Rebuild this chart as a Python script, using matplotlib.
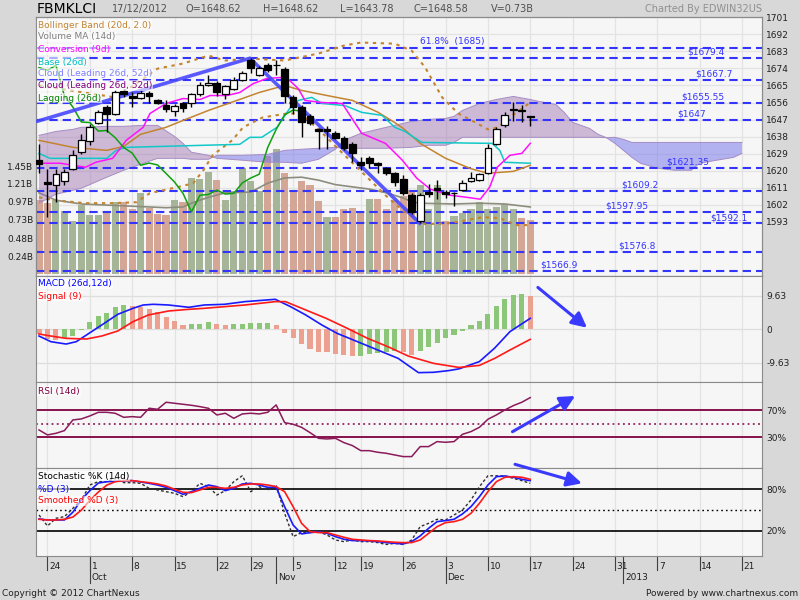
import numpy as np
import matplotlib
matplotlib.use('Agg')
import matplotlib.pyplot as plt
from matplotlib.transforms import blended_transform_factory

# ---- daily candles, 21 Sep 2012 (index 0) .. 17 Dec 2012 (index 58) ----
opens = [1625.5, 1614.0, 1612.3, 1614.5, 1621.1, 1629.8, 1635.5, 1645.1, 1653.6, 1650.1,
         1662.0, 1659.5, 1658.3, 1661.0, 1657.2, 1654.5, 1651.5, 1655.7, 1655.7, 1660.3,
         1665.0, 1666.4, 1660.6, 1663.3, 1668.0, 1678.3, 1670.8, 1676.0, 1676.0, 1673.8,
         1659.0, 1653.6, 1648.7, 1641.8, 1642.2, 1640.1, 1637.5, 1634.3, 1624.6, 1626.7,
         1624.0, 1621.4, 1618.8, 1615.8, 1607.0, 1593.5, 1608.6, 1611.0, 1608.8, 1608.3,
         1609.6, 1614.5, 1615.3, 1618.5, 1633.9, 1644.3, 1652.5, 1651.8, 1648.62]
highs = [1634.0, 1621.0, 1621.0, 1621.0, 1630.7, 1639.5, 1644.8, 1651.8, 1654.5, 1662.4,
         1663.0, 1661.5, 1662.4, 1662.0, 1658.0, 1657.4, 1655.3, 1656.5, 1661.0, 1667.0,
         1670.3, 1667.6, 1665.0, 1669.4, 1672.5, 1679.4, 1675.5, 1677.0, 1678.5, 1675.0,
         1660.0, 1654.5, 1650.0, 1642.5, 1643.5, 1641.0, 1638.5, 1635.0, 1627.2, 1627.5,
         1624.5, 1622.0, 1619.5, 1617.5, 1608.0, 1608.0, 1612.8, 1614.8, 1610.0, 1608.5,
         1615.0, 1619.3, 1619.0, 1634.0, 1643.0, 1651.0, 1656.3, 1654.5, 1648.62]
lows = [1619.0, 1595.5, 1603.5, 1612.3, 1620.4, 1629.0, 1633.4, 1644.8, 1640.4, 1649.2,
        1659.0, 1653.6, 1657.7, 1656.0, 1655.0, 1650.9, 1648.7, 1651.0, 1653.5, 1659.5,
        1664.5, 1659.7, 1658.0, 1662.4, 1667.5, 1671.5, 1670.0, 1672.0, 1670.3, 1656.0,
        1650.0, 1637.7, 1644.0, 1631.6, 1631.6, 1636.5, 1631.0, 1624.6, 1620.2, 1621.5,
        1618.5, 1617.5, 1612.0, 1607.0, 1597.0, 1592.1, 1606.0, 1605.0, 1605.5, 1601.2,
        1609.0, 1614.0, 1614.7, 1618.0, 1633.5, 1642.8, 1646.2, 1645.5, 1643.78]
closes = [1623.4, 1612.8, 1618.4, 1619.3, 1628.1, 1636.4, 1643.0, 1650.9, 1649.7, 1661.5,
          1660.3, 1658.5, 1661.0, 1659.2, 1655.6, 1652.7, 1654.3, 1653.3, 1660.6, 1665.5,
          1666.4, 1661.5, 1664.5, 1668.0, 1671.5, 1674.0, 1674.5, 1673.0, 1675.7, 1659.5,
          1653.6, 1645.7, 1645.4, 1640.9, 1641.2, 1637.4, 1632.2, 1629.3, 1622.8, 1624.0,
          1623.0, 1618.5, 1614.0, 1608.0, 1598.2, 1607.0, 1607.4, 1609.7, 1607.6, 1608.0,
          1613.5, 1616.1, 1618.1, 1632.2, 1641.8, 1649.5, 1652.0, 1651.4, 1648.58]
volume = [1.00, 0.95, 0.99, 0.85, 0.71, 0.92, 0.79, 0.79, 0.84, 0.96,
          0.96, 0.87, 1.09, 0.88, 0.81, 0.79, 0.99, 0.97, 1.29, 1.27,
          1.37, 1.26, 0.99, 1.11, 1.43, 1.25, 1.11, 1.59, 1.68, 1.36,
          1.10, 1.25, 1.19, 0.98, 0.77, 0.77, 0.87, 0.89, 0.84, 1.01,
          1.01, 0.87, 0.99, 1.05, 1.13, 1.19, 0.87, 1.19, 0.71, 0.78,
          0.82, 0.87, 0.96, 0.87, 0.90, 0.94, 0.87, 0.75, 0.73]

# ---- overlay lines as (day index, value) ----
vma_x = [0, 2, 5, 11, 15, 17, 18, 20, 22, 25, 27, 29, 31, 33, 35, 37, 39, 41, 43, 44, 45, 49, 52, 55, 58]
vma_y = [1.09, 0.99, 0.94, 0.91, 0.89, 0.90, 0.95, 1.03, 1.09, 1.10, 1.22, 1.29, 1.30, 1.26, 1.20,
         1.17, 1.14, 1.09, 1.02, 0.97, 0.95, 0.94, 0.95, 0.94, 0.90]

bbu_x = [0, 9, 12, 14, 17, 20, 22, 25, 29, 33, 36, 38, 42, 44, 45.6, 47.6, 49.5, 51.1, 53, 54.2, 56.2, 58]
bbu_y = [1665.0, 1658.7, 1667.6, 1673.9, 1676.6, 1680.8, 1678.2, 1679.2, 1678.2, 1681.9, 1686.1,
         1687.7, 1687.1, 1683.4, 1674.5, 1658.7, 1650.2, 1646.5, 1641.8, 1642.9, 1650.2, 1656.0]
bbm_x = [0, 4, 8, 10, 12, 15, 17, 20, 24, 26, 29, 31, 34, 37, 40, 42, 43, 45, 48, 51, 53, 56, 58]
bbm_y = [1636.0, 1632.3, 1630.7, 1632.8, 1639.2, 1642.9, 1646.5, 1651.8, 1658.1, 1661.3, 1665.0, 1662.4,
         1659.7, 1657.1, 1650.9, 1645.4, 1642.3, 1634.4, 1626.5, 1621.0, 1618.6, 1619.6, 1622.8]
bbl_x = [0, 1.7, 5.5, 8.7, 11.5, 13.1, 16.3, 18.2, 19.4, 20.5, 22.8, 24.1, 26.4, 29.3, 30.8, 32.9,
         35.5, 37.9, 40.9, 43.2, 45.6, 48.5, 52.4, 54.4, 56.4, 58]
bbl_y = [1605.9, 1604.4, 1602.8, 1602.8, 1603.3, 1608.1, 1611.2, 1613.3, 1620.2, 1628.1, 1636.0, 1642.9,
         1648.1, 1650.2, 1650.2, 1642.3, 1630.7, 1620.2, 1607.0, 1598.0, 1591.7, 1592.2, 1595.4, 1594.9,
         1591.2, 1591.2]

conv_x = [0, 2.5, 5.5, 6.7, 8.7, 10.3, 12.3, 13.1, 15, 17, 19, 20.2, 22.2, 23.7, 25.3, 26.9, 28.5, 29.6,
          30.6, 31.4, 33.4, 35.8, 38.1, 40.9, 42.9, 44.6, 46.2, 48.5, 50.5, 52.1, 53.2, 54.1, 55.6, 57, 58]
conv_y = [1623.9, 1623.9, 1621.8, 1624.4, 1626.5, 1636.0, 1642.9, 1650.2, 1655.5, 1658.1, 1657.6, 1659.7,
          1659.7, 1661.3, 1666.0, 1668.7, 1669.2, 1667.6, 1663.4, 1657.1, 1656.0, 1655.5, 1639.7, 1634.4,
          1625.5, 1616.0, 1610.2, 1607.0, 1605.9, 1604.9, 1611.2, 1621.8, 1628.1, 1629.1, 1634.4]
base_x = [0, 1.3, 8, 9.1, 10.3, 23.7, 24.9, 26.3, 28.1, 29.6, 30.6, 32.2, 33.4, 36.1, 38.1, 40.5, 42,
          43.2, 45.2, 53.5, 54.4, 55, 58]
base_y = [1629.1, 1626.5, 1626.5, 1630.7, 1632.3, 1633.9, 1637.6, 1637.6, 1642.9, 1652.9, 1657.1, 1658.7,
          1655.5, 1654.4, 1650.8, 1649.2, 1642.9, 1640.7, 1634.9, 1634.4, 1630.7, 1624.4, 1623.9]

cloud_x = [0, 2, 4, 5, 8, 10, 12, 14, 16, 17, 18, 20, 21, 24, 27, 29, 31, 33, 35, 36, 38, 41, 44, 46,
           48, 49, 50, 52, 54, 56, 58, 59, 61, 62, 63, 65, 66, 67, 68, 69, 70, 71, 73, 75, 77, 78, 80, 82, 83]
span_a = [1638.6, 1640.7, 1641.8, 1642.9, 1643.4, 1643.4, 1643.9, 1643.9, 1638.1, 1634.4,
          1629.7, 1628.1, 1626.5, 1625.5, 1624.4, 1624.4, 1623.9, 1626.0, 1631.3, 1636.0,
          1639.7, 1642.9, 1646.0, 1647.1, 1647.6, 1648.7, 1651.8, 1655.5, 1657.6, 1659.2,
          1657.6, 1656.6, 1655.0, 1650.8, 1645.5, 1642.3, 1639.2, 1637.4, 1634.4, 1630.7,
          1627.0, 1623.9, 1621.3, 1620.2, 1620.2, 1623.9, 1625.5, 1627.0, 1629.1]
span_b = [1602.8, 1607.5, 1609.6, 1610.7, 1616.5, 1620.2, 1623.4, 1626.5, 1626.5, 1626.5,
          1626.0, 1626.0, 1628.1, 1628.1, 1628.6, 1630.7, 1631.3, 1631.8, 1632.3, 1631.8,
          1631.8, 1631.8, 1632.3, 1633.4, 1633.4, 1634.9, 1637.6, 1637.6, 1637.6, 1637.6,
          1637.6, 1637.6, 1637.6, 1637.6, 1637.6, 1637.6, 1637.6, 1637.4, 1637.6, 1636.5,
          1634.9, 1634.9, 1634.9, 1634.9, 1634.9, 1634.9, 1634.9, 1634.9, 1634.9]

trend_x = [-0.35, 24.9, 45.1]
trend_y = [1645.9, 1679.4, 1591.6]

fib_levels = [1685, 1679.4, 1667.7, 1655.55, 1647, 1621.35, 1609.2, 1597.95, 1592.1, 1576.8, 1566.9]
fib_labels = ['61.8%  (1685)', '\\$1679.4', '\\$1667.7', '\\$1655.55', '\\$1647', '\\$1621.35',
              '\\$1609.2', '\\$1597.95', '\\$1592.1', '\\$1576.8', '\\$1566.9']

price_ticks = [1701, 1692, 1683, 1674, 1665, 1656, 1647, 1638, 1629, 1620, 1611, 1602, 1593]
vol_ticks = [0.24, 0.48, 0.73, 0.97, 1.21, 1.45]

# ---- MACD ----
macd_x = [0, 1.4, 3.2, 4.4, 5.6, 7.4, 9.3, 11.1, 12.3, 13.5, 15.3, 17.7, 19.5, 21.9, 24.3, 27.9, 29.7,
          31.5, 33.4, 35.2, 37.6, 40, 42.4, 44.8, 46.6, 48.4, 49.6, 52, 53.8, 55.6, 58]
macd_y = [-1.93, -3.56, -4.24, -3.56, -1.64, 1.25, 4.34, 6.07, 7.03, 7.23, 7.03, 6.36, 7.03, 7.23, 8.0,
          8.67, 6.55, 4.14, 1.25, -1.16, -3.56, -5.97, -8.38, -12.5, -12.4, -11.9, -11.4, -9.3, -5.4,
          -0.67, 3.18]
sig_x = [0, 1.4, 3.2, 5.6, 7.4, 9.3, 11.1, 12.9, 15.3, 17.7, 19.5, 21.9, 24.3, 27.9, 29.1, 31.5, 33.9,
         36.4, 38.8, 41.2, 43.6, 46.6, 49.6, 52, 53.8, 55.6, 58]
sig_y = [-1.35, -1.93, -2.6, -2.79, -1.93, -0.48, 2.22, 4.14, 5.3, 5.78, 6.07, 6.55, 7.03, 8.0, 8.0,
         5.59, 3.18, 0.29, -2.6, -5.01, -7.71, -9.83, -11.0, -10.4, -8.38, -5.97, -2.89]
hist = [-1.45, -2.8, -3.1, -2.6, -1.8, -0.2, 2.2, 3.95, 4.8, 6.4,
        7.0, 6.7, 6.4, 5.9, 4.9, 3.7, 2.4, 1.25, 1.55, 1.6,
        2.2, 1.45, 1.25, 1.5, 1.6, 1.75, 1.8, 1.85, 1.25, -0.96,
        -2.6, -4.3, -5.7, -6.45, -6.65, -7.1, -7.4, -7.75, -7.6, -7.1,
        -6.7, -6.65, -6.3, -6.45, -7.4, -6.3, -5.0, -3.85, -2.6, -1.6,
        -0.4, 1.25, 2.4, 4.4, 6.85, 8.8, 10.0, 10.1, 9.7]

# ---- RSI (14d) ----
rsi = [40.9, 33.5, 35.9, 39.9, 55.7, 57.2, 61.6, 67.0, 67.0, 65.6,
       59.6, 60.6, 59.6, 73.0, 71.5, 81.9, 80.4, 78.9, 77.4, 75.4,
       73.0, 63.1, 65.6, 58.1, 64.6, 65.6, 64.6, 67.0, 77.9, 51.7,
       49.3, 44.8, 36.9, 28.5, 27.5, 28.5, 22.1, 17.7, 10.2, 10.2,
       7.8, 6.3, 3.8, 1.4, 1.4, 16.2, 16.2, 23.6, 22.6, 23.6,
       34.4, 38.4, 44.8, 56.7, 63.1, 70.5, 76.9, 81.9, 88.8]

# ---- Stochastic ----
stoch_k = [43.0, 27.2, 38.2, 40.6, 52.6, 64.6, 86.2, 91.0, 91.0, 95.8,
           89.6, 89.6, 88.6, 81.4, 79.0, 76.6, 74.2, 69.4, 76.6, 88.6,
           83.8, 71.8, 78.1, 91.0, 99.5, 76.6, 83.8, 79.0, 86.2, 45.4,
           11.8, 17.6, 17.6, 19.0, 14.2, 7.0, 4.6, 7.0, 4.6, 4.6,
           3.2, 0.5, 2.2, 0.5, 7.0, 26.2, 31.0, 36.8, 35.8, 43.0,
           50.2, 64.6, 83.8, 99.5, 99.5, 99.2, 95.8, 92.5, 88.6]
stoch_d = [37.3, 35.8, 35.8, 35.8, 47.0, 65.0, 78.0, 89.0, 91.0, 91.5,
           92.5, 92.5, 90.6, 88.6, 86.2, 82.9, 78.1, 72.8, 76.6, 81.4,
           86.2, 83.8, 78.1, 81.4, 87.7, 88.6, 86.2, 82.9, 82.9, 55.0,
           28.6, 15.7, 17.6, 18.6, 16.6, 11.8, 8.0, 6.1, 6.1, 5.6,
           4.6, 3.2, 2.2, 1.3, 4.6, 12.8, 23.8, 33.4, 34.9, 36.8,
           44.5, 55.0, 69.4, 86.2, 98.2, 99.2, 97.3, 94.4, 92.5]
stoch_sd = [36.8, 35.8, 35.8, 36.8, 40.0, 50.0, 64.0, 76.0, 86.0, 91.0,
            92.5, 92.5, 91.0, 89.6, 87.7, 84.8, 80.0, 75.7, 75.2, 79.0,
            82.9, 82.9, 81.4, 82.9, 86.2, 87.7, 87.7, 86.2, 83.8, 76.6,
            55.0, 31.0, 19.0, 17.6, 17.6, 14.2, 10.9, 8.0, 7.0, 6.1,
            5.6, 4.6, 3.7, 3.2, 3.2, 7.0, 16.6, 26.2, 32.0, 33.4,
            36.8, 45.4, 59.8, 76.6, 91.0, 97.3, 98.2, 97.3, 94.4]

# hand-drawn arrows: (start, end) in each panel's units
macd_arrow = ((58.9, 12.1), (64.7, 0.46))
rsi_arrow = ((55.9, 38.3), (63.3, 91.2))
stoch_arrow = ((56.2, 116.0), (64.1, 88.6))

# ---- x axis: trading-day index, weekly ticks ----
tick_idx = [1, 6, 11, 16, 21, 25, 30, 35, 38, 43, 48, 53, 58, 63, 68, 73, 78, 83]
tick_lab = ['24', '1', '8', '15', '22', '29', '5', '12', '19', '26', '3', '10', '17', '24', '31', '7', '14', '21']
month_idx = [6, 28, 48, 69]
month_lab = ['Oct', 'Nov', 'Dec', '2013']

OUTER = '#d8d8d8'
PANEL = '#f6f6f6'
GRID = '#e3e3e3'
EDGE = '#8a8a8a'
BLUE = '#3434ff'
BB = '#c3842f'
FS = 6.5

opens, highs, lows, closes = map(np.array, (opens, highs, lows, closes))
volume = np.array(volume)
days = np.arange(len(closes))
XMIN, XMAX = -0.354, 85.36

fig = plt.figure(figsize=(8, 6), dpi=100, facecolor=OUTER)


def panel(top_px, bottom_px):
    ax = fig.add_axes([36 / 800, 1 - bottom_px / 600, 726 / 800, (bottom_px - top_px) / 600],
                      facecolor=PANEL)
    ax.set_xlim(XMIN, XMAX)
    ax.set_xticks([])
    for s in ax.spines.values():
        s.set_color(EDGE)
    for t in tick_idx:
        ax.axvline(t, color=GRID, lw=0.9, zorder=0)
    ax.yaxis.tick_right()
    ax.tick_params(axis='y', length=0, labelsize=FS, pad=3, colors='#202020')
    return ax


def legend(ax, items, ys):
    for (txt, col), y in zip(items, ys):
        ax.text(0.003, y, txt, transform=ax.transAxes, color=col, fontsize=FS, va='center',
                ha='left', zorder=20,
                bbox=dict(boxstyle='square,pad=0.1', fc='white', ec='none', alpha=0.6))


# ================= main panel: volume underneath, price on top =================
axv = panel(17, 276)
axv.yaxis.tick_left()
axv.set_ylim(-0.028, 3.453)
axv.set_yticks(vol_ticks)
axv.set_yticklabels(['%.2fB' % v for v in vol_ticks])
axv.tick_params(axis='y', pad=2)

axp = axv.twinx()
axp.set_ylim(1564.3, 1701.2)
axp.set_yticks(price_ticks)
axp.set_yticklabels([str(p) for p in price_ticks])
axp.tick_params(axis='y', length=0, labelsize=FS, pad=3, colors='#202020')
for s in axp.spines.values():
    s.set_color(EDGE)

grid_tr = blended_transform_factory(axv.transAxes, axp.transData)
for p in price_ticks:
    axv.plot([0, 1], [p, p], transform=grid_tr, color=GRID, lw=0.9, zorder=0)

vol_up = np.r_[closes[0] >= opens[0], closes[1:] >= closes[:-1]]
axv.bar(days, volume, width=0.84, color=np.where(vol_up, '#a6b597', '#d4a696'), zorder=1)
axv.plot(vma_x, vma_y, color='#8d8d7e', lw=1.2, zorder=2)

# cloud
cx, ca, cb = np.array(cloud_x), np.array(span_a), np.array(span_b)
axp.fill_between(cx, ca, cb, where=ca >= cb, interpolate=True, color='#9b6fb0', alpha=0.45, lw=0, zorder=1)
axp.fill_between(cx, ca, cb, where=ca < cb, interpolate=True, color='#7070ee', alpha=0.5, lw=0, zorder=1)
axp.plot(cx, ca, color='#a58cc4', lw=0.7, zorder=1.5)
axp.plot(cx, cb, color='#a58cc4', lw=0.7, zorder=1.5)

# horizontal levels
for lvl, lab in zip(fib_levels, fib_labels):
    axp.axhline(lvl, color=BLUE, lw=1.5, dashes=(4, 2.4), zorder=2)
fib_text_x = [45.0, 76.5, 77.5, 75.8, 75.4, 74.0, 68.8, 66.8, 79.2, 68.4, 59.2]
for lvl, lab, tx in zip(fib_levels, fib_labels, fib_text_x):
    axp.annotate(lab, (tx, lvl), xytext=(0, 1), textcoords='offset points', color=BLUE,
                 fontsize=FS, ha='left', va='bottom', zorder=3)

# bollinger, ichimoku lines
axp.plot(bbu_x, bbu_y, color=BB, lw=1.5, dashes=(1.6, 2.2), zorder=3)
axp.plot(bbl_x, bbl_y, color=BB, lw=1.5, dashes=(1.6, 2.2), zorder=3)
axp.plot(bbm_x, bbm_y, color=BB, lw=1.1, zorder=3)
axp.plot(base_x, base_y, color='#10c8c8', lw=1.1, zorder=3)
axp.plot(conv_x, conv_y, color='#ff10ff', lw=1.1, zorder=3)
lag_days = days[:len(closes) - 26]
axp.plot(lag_days, closes[26:], color='#10a010', lw=1.1, zorder=3)

axp.plot(trend_x, trend_y, color='#4848ff', lw=2.6, alpha=0.9, zorder=4, solid_capstyle='butt')

# candles
up = closes >= opens
axp.vlines(days, lows, highs, color='black', lw=1, zorder=5)
axp.bar(days, np.maximum(np.abs(closes - opens), 0.3), bottom=np.minimum(opens, closes), width=0.8,
        color=np.where(up, 'white', 'black'), edgecolor='black', lw=0.9, zorder=6)

legend(axp, [('Bollinger Band (20d, 2.0)', BB), ('Volume MA (14d)', '#808080'),
             ('Conversion (9d)', '#ff00ff'), ('Base (26d)', '#00c0c0'),
             ('Cloud (Leading 26d, 52d)', '#8080ff'), ('Cloud (Leading 26d, 52d)', '#800080'),
             ('Lagging (26d)', '#008000')],
       [0.969, 0.923, 0.875, 0.826, 0.782, 0.734, 0.687])

# ================= MACD =================
axm = panel(276, 382)
axm.set_ylim(-15.2, 15.4)
axm.set_yticks([9.63, 0, -9.63])
axm.set_yticklabels(['9.63', '0', '-9.63'])
for v in (9.63, 0, -9.63):
    axm.axhline(v, color='#dedede', lw=0.9, zorder=0)
hist = np.array(hist)
h_up = np.r_[False, np.diff(hist) > 0]
axm.bar(days, hist, width=0.6, color=np.where(h_up, '#8cc679', '#eba090'), zorder=2)
axm.plot(macd_x, macd_y, color='#1a1aff', lw=1.2, zorder=3)
axm.plot(sig_x, sig_y, color='#ff1a1a', lw=1.2, zorder=3)
legend(axm, [('MACD (26d,12d)', '#0000ff'), ('Signal (9)', '#ff0000')], [0.925, 0.811])

# ================= RSI =================
axr = panel(382, 468)
axr.set_ylim(-15.5, 111.9)
axr.set_yticks([70, 30])
axr.set_yticklabels(['70%', '30%'])
axr.axhline(70, color='#800040', lw=1.3, zorder=1)
axr.axhline(30, color='#800040', lw=1.3, zorder=1)
axr.axhline(50, color='#800040', lw=1.1, dashes=(1.2, 2.2), zorder=1)
axr.plot(days, rsi, color='#8a1a5a', lw=1.1, zorder=3)
legend(axr, [('RSI (14d)', '#800040')], [0.895])

# ================= Stochastic =================
axs = panel(468, 556)
axs.set_ylim(-16.1, 110.7)
axs.set_yticks([80, 20])
axs.set_yticklabels(['80%', '20%'])
axs.axhline(80, color='black', lw=1.2, zorder=1)
axs.axhline(20, color='black', lw=1.2, zorder=1)
axs.axhline(50, color='black', lw=1.0, dashes=(1.2, 2.2), zorder=1)
axs.plot(days, stoch_k, color='#303030', lw=1.0, dashes=(2, 1.6), zorder=3)
axs.plot(days, stoch_d, color='#1a1aff', lw=1.2, zorder=3)
axs.plot(days, stoch_sd, color='#ff1a1a', lw=1.2, zorder=3)
legend(axs, [('Stochastic %K (14d)', 'black'), ('%D (3)', '#0000ff'), ('Smoothed %D (3)', '#ff0000')],
       [0.909, 0.761, 0.625])

# arrows
for ax, (start, end) in ((axm, macd_arrow), (axr, rsi_arrow), (axs, stoch_arrow)):
    ax.annotate('', xy=end, xytext=start, annotation_clip=False, zorder=15,
                arrowprops=dict(arrowstyle='-|>,head_length=0.5,head_width=0.25', color='#3a3aff',
                                lw=2.2, mutation_scale=18, shrinkA=0, shrinkB=0, clip_on=False))

# date axis below the last panel
tr = blended_transform_factory(axs.transData, axs.transAxes)
for t, lab in zip(tick_idx, tick_lab):
    axs.plot([t, t], [0, -0.159], transform=tr, color='#404040', lw=0.8, clip_on=False)
    axs.text(t + 0.2, -0.114, lab, transform=tr, fontsize=FS, va='center', ha='left', color='#202020')
for t, lab in zip(month_idx, month_lab):
    axs.plot([t, t], [0, -0.307], transform=tr, color='#404040', lw=0.8, clip_on=False)
    axs.text(t + 0.2, -0.244, lab, transform=tr, fontsize=FS, va='center', ha='left', color='#202020')

# header and footer
top = 1 - 9 / 600
fig.text(37 / 800, top, 'FBMKLCI', fontsize=10, va='center', ha='left', color='black')
for px, txt in ((112, '17/12/2012'), (186, 'O=1648.62'), (263, 'H=1648.62'), (340, 'L=1643.78'),
                (414, 'C=1648.58'), (491, 'V=0.73B')):
    fig.text(px / 800, top, txt, fontsize=7, va='center', ha='left', color='#505050')
fig.text(762 / 800, top, 'Charted By EDWIN32US', fontsize=7, va='center', ha='right', color='#909090')
fig.text(2 / 800, 1 - 593.5 / 600, 'Copyright \u00a9 2012 ChartNexus', fontsize=6.5, va='center',
         ha='left', color='#202020')
fig.text(798 / 800, 1 - 593.5 / 600, 'Powered by www.chartnexus.com', fontsize=6.5, va='center',
         ha='right', color='#202020')

fig.savefig('out.png', dpi=100, facecolor=OUTER)
